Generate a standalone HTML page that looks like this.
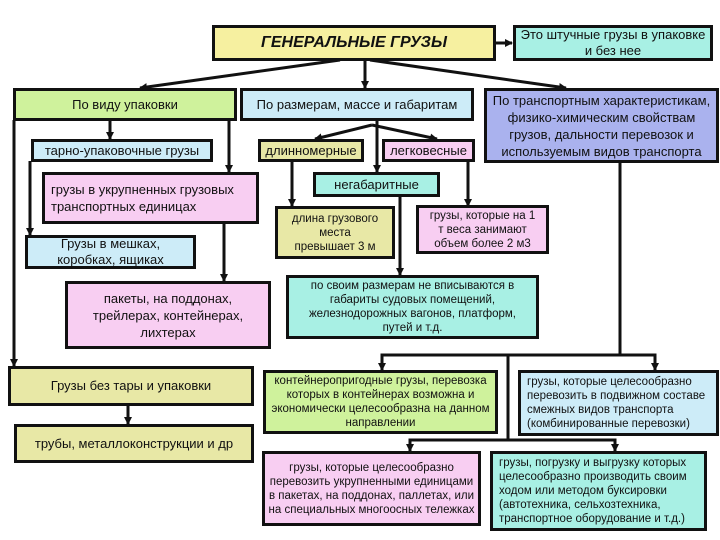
<!DOCTYPE html>
<html><head><meta charset="utf-8"><style>
body{margin:0;width:720px;height:540px;background:#fff;position:relative;overflow:hidden;font-family:"Liberation Sans",sans-serif}
.b{position:absolute;box-sizing:border-box;border:3px solid #111;display:flex;align-items:center;justify-content:center;text-align:center;font-size:13px;line-height:16px;color:#111;padding:0 3px}
.s{font-size:11.5px;line-height:14px;padding:0 8px}
.y{background:#f6f0a0}.c{background:#a8f0e4}.g{background:#cff29c}.lb{background:#cdecf8}.lv{background:#aab2ee}.k{background:#e8e8a6}.p{background:#f8cef2}
svg{position:absolute;left:0;top:0}
</style></head><body>
<svg width="720" height="540">
<defs><marker id="a" markerWidth="8" markerHeight="8" refX="7" refY="4" orient="auto" markerUnits="userSpaceOnUse" viewBox="0 0 8 8"><path d="M0,0L8,4L0,8z" fill="#111"/></marker></defs>
<g stroke="#111" stroke-width="3" fill="none" marker-end="url(#a)">
<path d="M496,43H512"/>
<path d="M340,60L140,88"/>
<path d="M365,60V88"/>
<path d="M370,60L566,88"/>
<path d="M110,120V139"/>
<path d="M229,120V172"/>
<path d="M14,120V366"/>
<path d="M30,161V235"/>
<path d="M224,223V281"/>
<path d="M128,405V424"/>
<path d="M372,125L315,139"/>
<path d="M372,125L437,139"/>
<path d="M377,120V172"/>
<path d="M292,161V206"/>
<path d="M468,161V206"/>
<path d="M400,196V275"/>
<path d="M620,162V355H382V370"/>
<path d="M620,355H655V370"/>
<path d="M508,355V440H410V451"/>
<path d="M508,440H615V451"/>
</g>
</svg>
<div class="b y" style="left:212px;top:25px;width:284px;height:36px;font-size:16px;font-weight:bold;font-style:italic">ГЕНЕРАЛЬНЫЕ ГРУЗЫ</div>
<div class="b c" style="left:513px;top:25px;width:200px;height:36px">Это штучные грузы в упаковке<br>и без нее</div>
<div class="b g" style="left:13px;top:88px;width:224px;height:33px">По виду упаковки</div>
<div class="b lb" style="left:240px;top:88px;width:234px;height:33px">По размерам, массе и габаритам</div>
<div class="b lv" style="left:484px;top:88px;width:235px;height:75px;line-height:17px">По транспортным характеристикам, физико-химическим свойствам грузов, дальности перевозок и используемым видов транспорта</div>
<div class="b lb" style="left:31px;top:139px;width:182px;height:23px">тарно-упаковочные грузы</div>
<div class="b k" style="left:258px;top:139px;width:106px;height:23px">длинномерные</div>
<div class="b p" style="left:382px;top:139px;width:93px;height:23px">легковесные</div>
<div class="b p" style="left:42px;top:172px;width:217px;height:52px;justify-content:flex-start;text-align:left;padding-left:6px;line-height:17px">грузы в укрупненных грузовых транспортных единицах</div>
<div class="b c" style="left:313px;top:172px;width:127px;height:25px">негабаритные</div>
<div class="b k s" style="left:275px;top:206px;width:120px;height:53px;padding:0 12px">длина грузового места превышает 3 м</div>
<div class="b p s" style="left:416px;top:205px;width:133px;height:49px">грузы, которые на 1 т веса занимают объем более 2 м3</div>
<div class="b lb" style="left:25px;top:235px;width:171px;height:34px;line-height:16px;padding:0 20px">Грузы в мешках, коробках, ящиках</div>
<div class="b p" style="left:65px;top:281px;width:206px;height:68px;line-height:17px;padding:0 14px">пакеты, на поддонах, трейлерах, контейнерах, лихтерах</div>
<div class="b c s" style="left:286px;top:275px;width:253px;height:64px;padding:0 18px">по своим размерам не вписываются в габариты судовых помещений, железнодорожных вагонов, платформ, путей и т.д.</div>
<div class="b k" style="left:8px;top:366px;width:246px;height:40px">Грузы без тары и упаковки</div>
<div class="b k" style="left:14px;top:424px;width:240px;height:39px">трубы, металлоконструкции и др</div>
<div class="b g s" style="left:263px;top:370px;width:235px;height:64px;padding:0 3px">контейнеропригодные грузы, перевозка которых в контейнерах возможна и экономически целесообразна на данном направлении</div>
<div class="b lb s" style="left:518px;top:370px;width:201px;height:66px;justify-content:flex-start;text-align:left;padding:0 4px 0 6px">грузы, которые целесообразно перевозить в подвижном составе смежных видов транспорта (комбинированные перевозки)</div>
<div class="b p s" style="left:262px;top:451px;width:219px;height:75px;padding:0 3px">грузы, которые целесообразно перевозить укрупненными единицами в пакетах, на поддонах, паллетах, или на специальных многоосных тележках</div>
<div class="b c s" style="left:490px;top:451px;width:217px;height:80px;justify-content:flex-start;text-align:left;padding:0 4px 0 6px">грузы, погрузку и выгрузку которых целесообразно производить своим ходом или методом буксировки (автотехника, сельхозтехника, транспортное оборудование и т.д.)</div>
</body></html>
